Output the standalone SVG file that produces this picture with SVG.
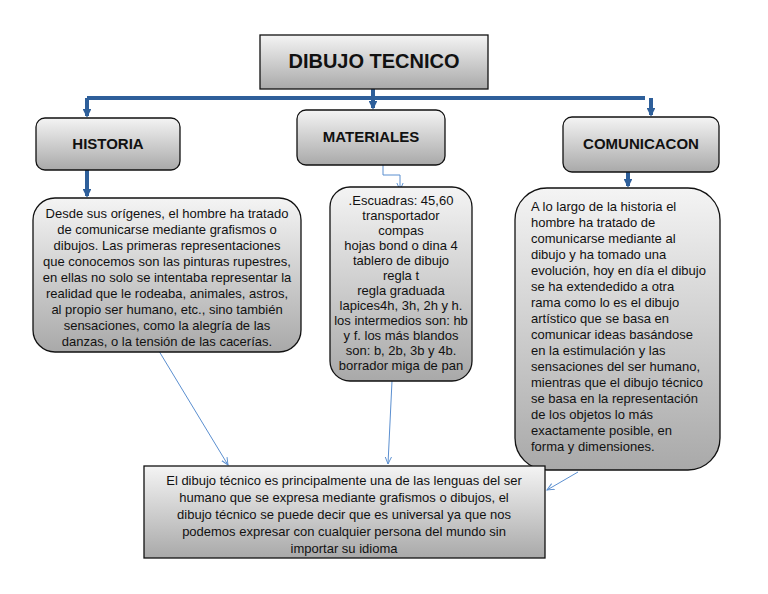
<svg xmlns="http://www.w3.org/2000/svg" width="768" height="594" viewBox="0 0 768 594">
<defs>
<linearGradient id="g" x1="0" y1="0" x2="0" y2="1"><stop offset="0" stop-color="#f4f4f4"/><stop offset="1" stop-color="#a9a9a9"/></linearGradient>
<marker id="ta" viewBox="0 0 10 10" refX="8" refY="5" markerWidth="2.2" markerHeight="2.2" orient="auto"><path d="M0,0L10,5L0,10z" fill="#2e5f9a"/></marker>
<marker id="th" viewBox="0 0 10 10" refX="9" refY="5" markerWidth="8" markerHeight="8" orient="auto"><path d="M0,1L9,5L0,9" fill="none" stroke="#5b8fd0" stroke-width="1.2"/></marker>
</defs>
<style>
.b{fill:url(#g);stroke:#111;stroke-width:1.3}
.h{font-family:"Liberation Sans",Arial,sans-serif;font-weight:bold;font-size:15px;text-anchor:middle;fill:#111}
.t{font-family:"Liberation Sans",Arial,sans-serif;font-size:13px;fill:#111}
.tc{text-anchor:middle}
.k{stroke:#2e5f9a;stroke-width:4;fill:none}
.n{stroke:#5b8fd0;stroke-width:1;fill:none}
</style>
<rect width="768" height="594" fill="#fff"/>
<g id="connectors">
<line class="k" x1="373" y1="89" x2="373" y2="98"/>
<line class="k" x1="87" y1="98" x2="645" y2="98"/>
<line class="k" x1="87" y1="98" x2="87" y2="116" marker-end="url(#ta)"/>
<line class="k" x1="373" y1="98" x2="373" y2="108" marker-end="url(#ta)"/>
<line class="k" x1="651" y1="98" x2="651" y2="115" marker-end="url(#ta)"/>
<line class="k" x1="87" y1="170" x2="87" y2="196" marker-end="url(#ta)"/>
<line class="k" x1="628" y1="172" x2="628" y2="186" marker-end="url(#ta)"/>
<path class="n" d="M383,165V175H400V190" marker-end="url(#th)"/>
<line class="n" x1="145" y1="328" x2="228" y2="465" marker-end="url(#th)"/>
<line class="n" x1="392" y1="381" x2="388" y2="464" marker-end="url(#th)"/>
<line class="n" x1="578" y1="472" x2="547" y2="490" marker-end="url(#th)"/>
</g>
<g id="dibujo"><rect class="b" x="260" y="35" width="228" height="54"/><text class="h" x="374" y="68" style="font-size:20px">DIBUJO TECNICO</text></g>
<g id="historia"><rect class="b" x="36" y="118" width="144" height="52" rx="9"/><text class="h" x="108" y="149">HISTORIA</text></g>
<g id="materiales"><rect class="b" x="297" y="110" width="148" height="55" rx="9"/><text class="h" x="371" y="142">MATERIALES</text></g>
<g id="comunicacon"><rect class="b" x="563" y="117" width="156" height="55" rx="9"/><text class="h" x="641" y="149">COMUNICACON</text></g>
<g id="historia-texto"><rect class="b" x="33" y="198" width="268" height="154" rx="22"/>
<text class="t tc"><tspan x="167" y="218">Desde sus orígenes, el hombre ha tratado</tspan><tspan x="167" y="234">de comunicarse mediante grafismos o</tspan><tspan x="167" y="250">dibujos. Las primeras representaciones</tspan><tspan x="167" y="266">que conocemos son las pinturas rupestres,</tspan><tspan x="167" y="282">en ellas no solo se intentaba representar la</tspan><tspan x="167" y="298">realidad que le rodeaba, animales, astros,</tspan><tspan x="167" y="314">al propio ser humano, etc., sino también</tspan><tspan x="167" y="330">sensaciones, como la alegría de las</tspan><tspan x="167" y="346">danzas, o la tensión de las cacerías.</tspan></text></g>
<g id="materiales-texto"><rect class="b" x="330" y="187" width="142" height="194" rx="20"/>
<text class="t tc"><tspan x="401" y="205">.Escuadras: 45,60</tspan><tspan x="401" y="220">transportador</tspan><tspan x="401" y="235">compas</tspan><tspan x="401" y="250">hojas bond o dina 4</tspan><tspan x="401" y="265">tablero de dibujo</tspan><tspan x="401" y="280">regla t</tspan><tspan x="401" y="295">regla graduada</tspan><tspan x="401" y="310">lapices4h, 3h, 2h y h.</tspan><tspan x="401" y="325">los intermedios son: hb</tspan><tspan x="401" y="340">y f. los más blandos</tspan><tspan x="401" y="355">son: b, 2b, 3b y 4b.</tspan><tspan x="401" y="370">borrador miga de pan</tspan></text></g>
<g id="comunicacon-texto"><rect class="b" x="515" y="188" width="205" height="282" rx="32"/>
<text class="t"><tspan x="531" y="211">A lo largo de la historia el</tspan><tspan x="531" y="227">hombre ha tratado de</tspan><tspan x="531" y="243">comunicarse mediante al</tspan><tspan x="531" y="259">dibujo y ha tomado una</tspan><tspan x="531" y="275">evolución, hoy en día el dibujo</tspan><tspan x="531" y="291">se ha extendedido a otra</tspan><tspan x="531" y="307">rama como lo es el dibujo</tspan><tspan x="531" y="323">artístico que se basa en</tspan><tspan x="531" y="339">comunicar ideas basándose</tspan><tspan x="531" y="355">en la estimulación y las</tspan><tspan x="531" y="371">sensaciones del ser humano,</tspan><tspan x="531" y="387">mientras que el dibujo técnico</tspan><tspan x="531" y="403">se basa en la representación</tspan><tspan x="531" y="419">de los objetos lo más</tspan><tspan x="531" y="435">exactamente posible, en</tspan><tspan x="531" y="451">forma y dimensiones.</tspan></text></g>
<g id="conclusion"><rect class="b" x="144" y="466" width="401" height="92"/>
<text class="t tc"><tspan x="344" y="485">El dibujo técnico es principalmente una de las lenguas del ser</tspan><tspan x="344" y="502">humano que se expresa mediante grafismos o dibujos, el</tspan><tspan x="344" y="519">dibujo técnico se puede decir que es universal ya que nos</tspan><tspan x="344" y="536">podemos expresar con cualquier persona del mundo sin</tspan><tspan x="344" y="553">importar su idioma</tspan></text></g>
</svg>
